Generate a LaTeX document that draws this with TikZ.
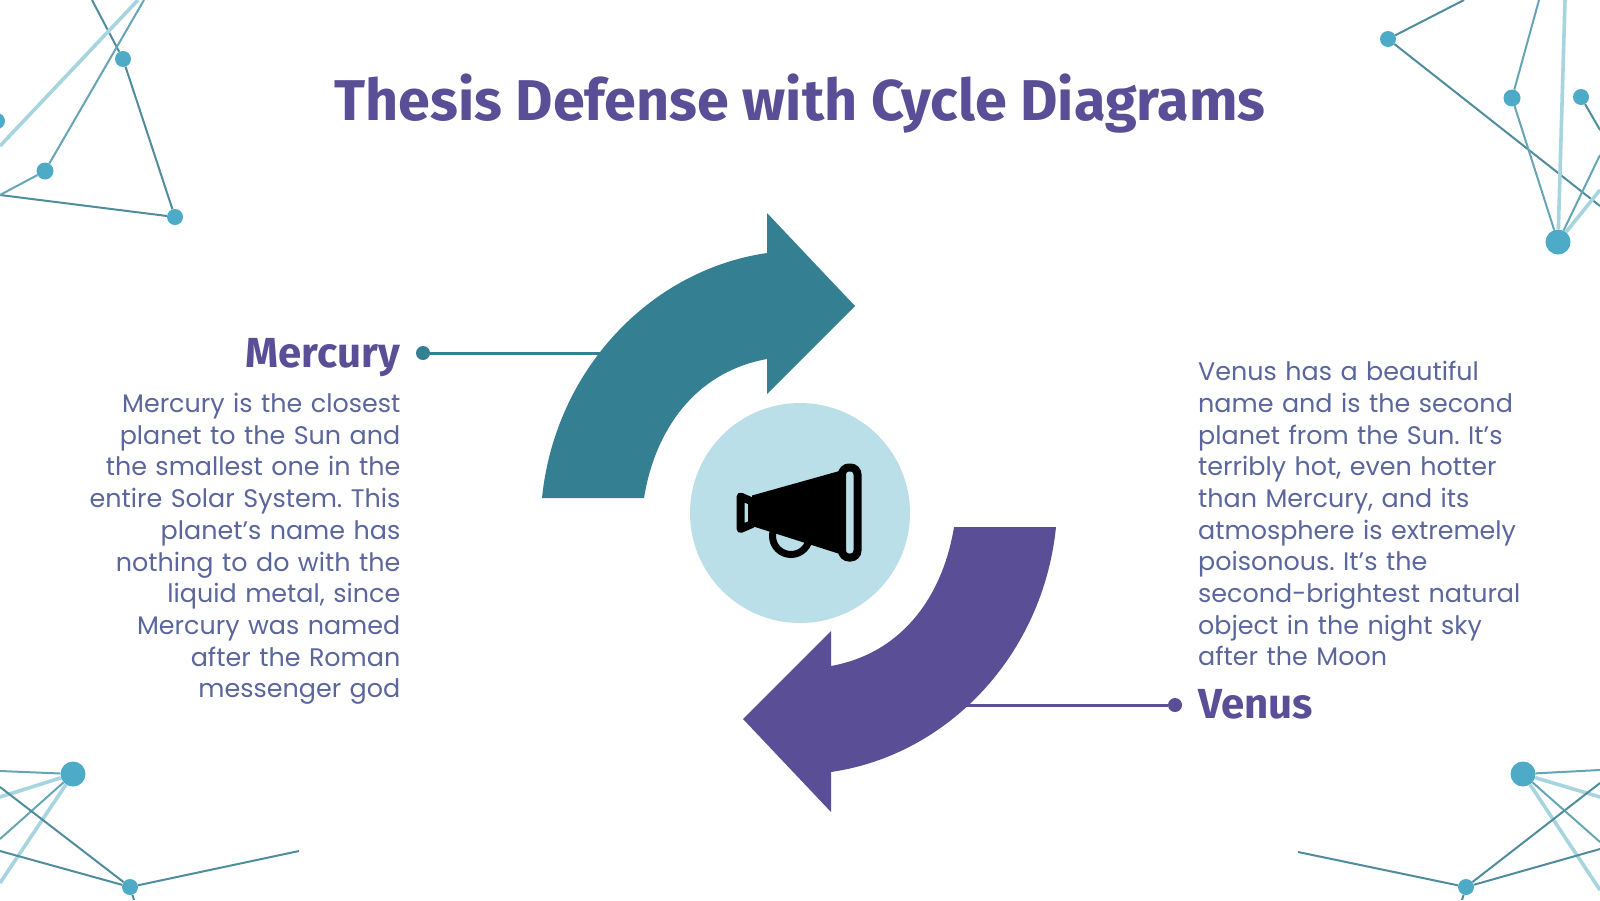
\documentclass[tikz,border=0pt]{standalone}
\usepackage{fontspec}
\setmainfont{Poppins}[WordSpace=1.25]
\newfontfamily\headfont{Fira Sans}[BoldFont={Fira Sans Bold}]
\definecolor{purp}{HTML}{5A4F96}
\definecolor{teal2}{HTML}{348092}
\definecolor{bodyc}{HTML}{5A669C}
\definecolor{pale}{HTML}{BBDFE9}
\definecolor{dotc}{HTML}{4EABC8}
\definecolor{ldark}{HTML}{4F8D9C}
\definecolor{lmid}{HTML}{66A5B5}
\definecolor{llight}{HTML}{A6D5E0}
\newcommand{\cyclearrowpath}{(542,498) .. controls (555,370) and (650,270) .. (767,253) -- (767,213) -- (855,306) -- (767,394) -- (767,359) .. controls (695,372) and (655,430) .. (644,498) -- cycle}
\tikzset{
  titletext/.style={font=\headfont\bfseries\fontsize{57.5}{68}\selectfont,text=purp,inner sep=0pt},
  headtext/.style={font=\headfont\bfseries\fontsize{42}{50}\selectfont,text=purp,inner sep=0pt},
  bodytext/.style={font=\frenchspacing\fontsize{25.4}{31.7}\selectfont,text=bodyc,inner sep=0pt},
  dot/.style={circle,fill=dotc,inner sep=0pt,minimum size=#1},
  ld/.style={draw=ldark,line width=2pt},
  lm/.style={draw=lmid,line width=2pt},
  ll/.style={draw=llight,line width=3.6pt},
}
\begin{document}
\begin{tikzpicture}[x=1pt,y=-1pt]
\useasboundingbox (0,0) rectangle (1600,900);
\clip (0,0) rectangle (1600,900);
\fill[white] (0,0) rectangle (1600,900);
% decoration: top left
\node[dot=16] (a) at (123,59) {};
\node[dot=17] (b) at (45,171) {};
\node[dot=16] (c) at (175,217) {};
\node[dot=16] (d) at (-3,121) {};
\coordinate (a1) at (92,0);
\coordinate (b1) at (144,0);
\coordinate (bc) at (0,195);
\coordinate (l1a) at (0,146);
\coordinate (l1b) at (138,0);
\draw[ld] (a) -- (a1);
\draw[ld] (a) -- (c);
\draw[ld] (c) -- (bc);
\draw[lm] (b) -- (b1);
\draw[lm] (b) -- (bc);
\draw[ll] (l1a) -- (l1b);
% top right
\node[dot=16] (e) at (1388,39) {};
\node[dot=17] (f) at (1512,98) {};
\node[dot=16] (g) at (1581,97) {};
\node[dot=25] (h) at (1558,242) {};
\coordinate (e1) at (1464,0);
\coordinate (e2) at (1600,206);
\coordinate (f1) at (1539,0);
\coordinate (h1) at (1565,0);
\coordinate (h2) at (1600,155);
\coordinate (h3) at (1600,190);
\coordinate (g1) at (1600,130);
\draw[ld] (e) -- (e1);
\draw[ld] (e) -- (e2);
\draw[lm] (f) -- (f1);
\draw[lm] (f) -- (h);
\draw[ll] (h) -- (h1);
\draw[lm] (h) -- (h2);
\draw[ll] (h) -- (h3);
\draw[ld] (g) -- (g1);
% bottom left
\node[dot=25] (i) at (73,774) {};
\node[dot=16] (j) at (130,887) {};
\coordinate (i1) at (0,771);
\coordinate (i2) at (0,797);
\coordinate (i3) at (0,839);
\coordinate (i4) at (0,883);
\coordinate (j1) at (0,787);
\coordinate (j2) at (0,851);
\coordinate (j3) at (299,851);
\coordinate (j4) at (134,900);
\draw[lm] (i) -- (i1);
\draw[ll] (i) -- (i2);
\draw[lm] (i) -- (i3);
\draw[ll] (i) -- (i4);
\draw[ld] (j) -- (j1);
\draw[ld] (j) -- (j2);
\draw[ld] (j) -- (j3);
\draw[ld] (j) -- (j4);
% bottom right
\node[dot=25] (k) at (1523,774) {};
\node[dot=16] (m) at (1466,887) {};
\coordinate (k1) at (1600,770);
\coordinate (k2) at (1600,797);
\coordinate (k3) at (1600,842);
\coordinate (k4) at (1600,890);
\coordinate (m1) at (1600,783);
\coordinate (m2) at (1600,849);
\coordinate (m3) at (1298,852);
\coordinate (m4) at (1462,900);
\draw[lm] (k) -- (k1);
\draw[ll] (k) -- (k2);
\draw[lm] (k) -- (k3);
\draw[ll] (k) -- (k4);
\draw[ld] (m) -- (m1);
\draw[ld] (m) -- (m2);
\draw[ld] (m) -- (m3);
\draw[ld] (m) -- (m4);
% title
\node[titletext] (title) at (800,104) {Thesis Defense with Cycle Diagrams};
% connectors
\node[circle,fill=teal2,inner sep=0pt,minimum size=14] (mdot) at (423,353) {};
\coordinate (marrow) at (610,353);
\draw[teal2,line width=3pt] (mdot) -- (marrow);
\node[circle,fill=purp,inner sep=0pt,minimum size=14] (vdot) at (1175,705) {};
\coordinate (varrow) at (950,705);
\draw[purp,line width=3pt] (vdot) -- (varrow);
% arrows
\fill[teal2] \cyclearrowpath;
\begin{scope}[rotate around={180:(799,512.5)}]
\fill[purp] \cyclearrowpath;
\end{scope}
% centre
\node[circle,fill=pale,inner sep=0pt,minimum size=220] (hub) at (800,513) {};
% megaphone
\draw[black,line width=7pt] (791,536) circle (18.5);
\fill[black] (752,495.5) -- (843,470) -- (843,555) -- (752,526) -- cycle;
\draw[black,fill=pale,line width=8pt,line join=round] (740.5,496.5) -- (752,501.5) -- (752,524) -- (740.5,529) -- cycle;
\draw[black,fill=pale,line width=8pt,rounded corners=7pt] (842,467.5) rectangle (857.5,557.5);
% texts
\node[headtext,anchor=base east] (mt) at (400,367) {Mercury};
\node[headtext,anchor=base west] (vt) at (1198,718) {Venus};
\node[bodytext,align=right,anchor=north east] (mb) at (400.5,393) {Mercury is the closest\\planet to the Sun and\\the smallest one in the\\entire Solar System. This\\planet’s name has\\nothing to do with the\\liquid metal, since\\Mercury was named\\after the Roman\\messenger god};
\node[bodytext,align=left,anchor=north west] (vb) at (1198,361) {Venus has a beautiful\\name and is the second\\planet from the Sun. It’s\\terribly hot, even hotter\\than Mercury, and its\\atmosphere is extremely\\poisonous. It’s the\\second-brightest natural\\object in the night sky\\after the Moon};
\end{tikzpicture}
\end{document}
